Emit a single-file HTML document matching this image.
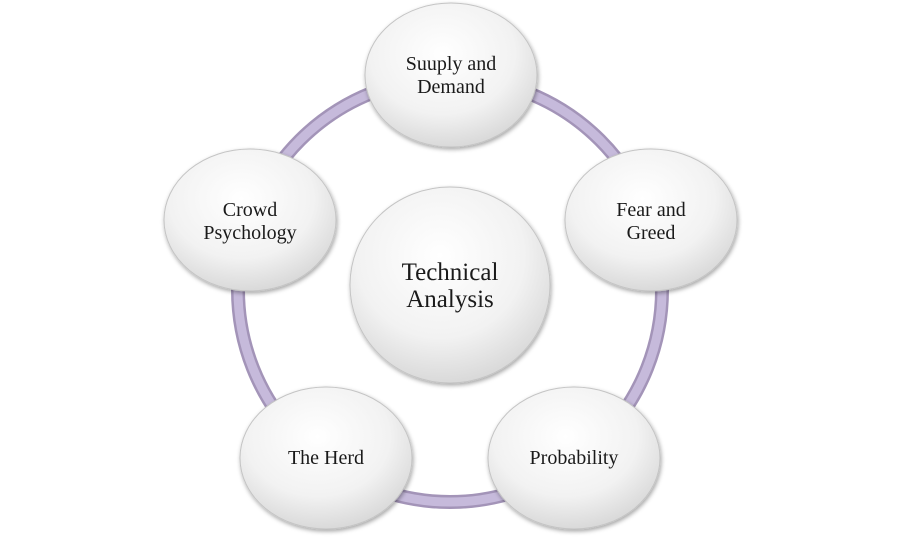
<!DOCTYPE html>
<html><head><meta charset="utf-8"><style>
html,body{margin:0;padding:0;background:#fff;width:900px;height:540px;overflow:hidden}
</style></head><body>
<svg width="900" height="540" viewBox="0 0 900 540" xmlns="http://www.w3.org/2000/svg">
<defs>
<radialGradient id="g" cx="45%" cy="35%" r="70%">
<stop offset="0" stop-color="#ffffff"/><stop offset="0.6" stop-color="#f2f2f2"/><stop offset="1" stop-color="#d4d4d4"/>
</radialGradient>
<filter id="s" x="-20%" y="-20%" width="140%" height="140%"><feDropShadow dx="1" dy="2" stdDeviation="2" flood-color="#000" flood-opacity="0.35"/></filter>
</defs>
<circle cx="450" cy="290" r="212" fill="none" stroke="#a394b8" stroke-width="14"/>
<circle cx="450" cy="290" r="212" fill="none" stroke="#c6badb" stroke-width="9"/>
<g filter="url(#s)" fill="url(#g)" stroke="#c4c4c4" stroke-width="1">
<ellipse cx="451" cy="75" rx="86" ry="72"/>
<ellipse cx="651" cy="220" rx="86" ry="71"/>
<ellipse cx="250" cy="220" rx="86" ry="71"/>
<ellipse cx="326" cy="458" rx="86" ry="71"/>
<ellipse cx="574" cy="458" rx="86" ry="71"/>
<ellipse cx="450" cy="285" rx="100" ry="98"/>
</g>
<g font-family="Liberation Serif, serif" font-size="20" fill="#1a1a1a" text-anchor="middle">
<text x="451" y="70">Suuply and</text><text x="451" y="93">Demand</text>
<text x="651" y="216">Fear and</text><text x="651" y="239">Greed</text>
<text x="250" y="216">Crowd</text><text x="250" y="239">Psychology</text>
<text x="326" y="464">The Herd</text>
<text x="574" y="464">Probability</text>
<text x="450" y="280" font-size="25">Technical</text><text x="450" y="307" font-size="25">Analysis</text>
</g>
</svg>
</body></html>
